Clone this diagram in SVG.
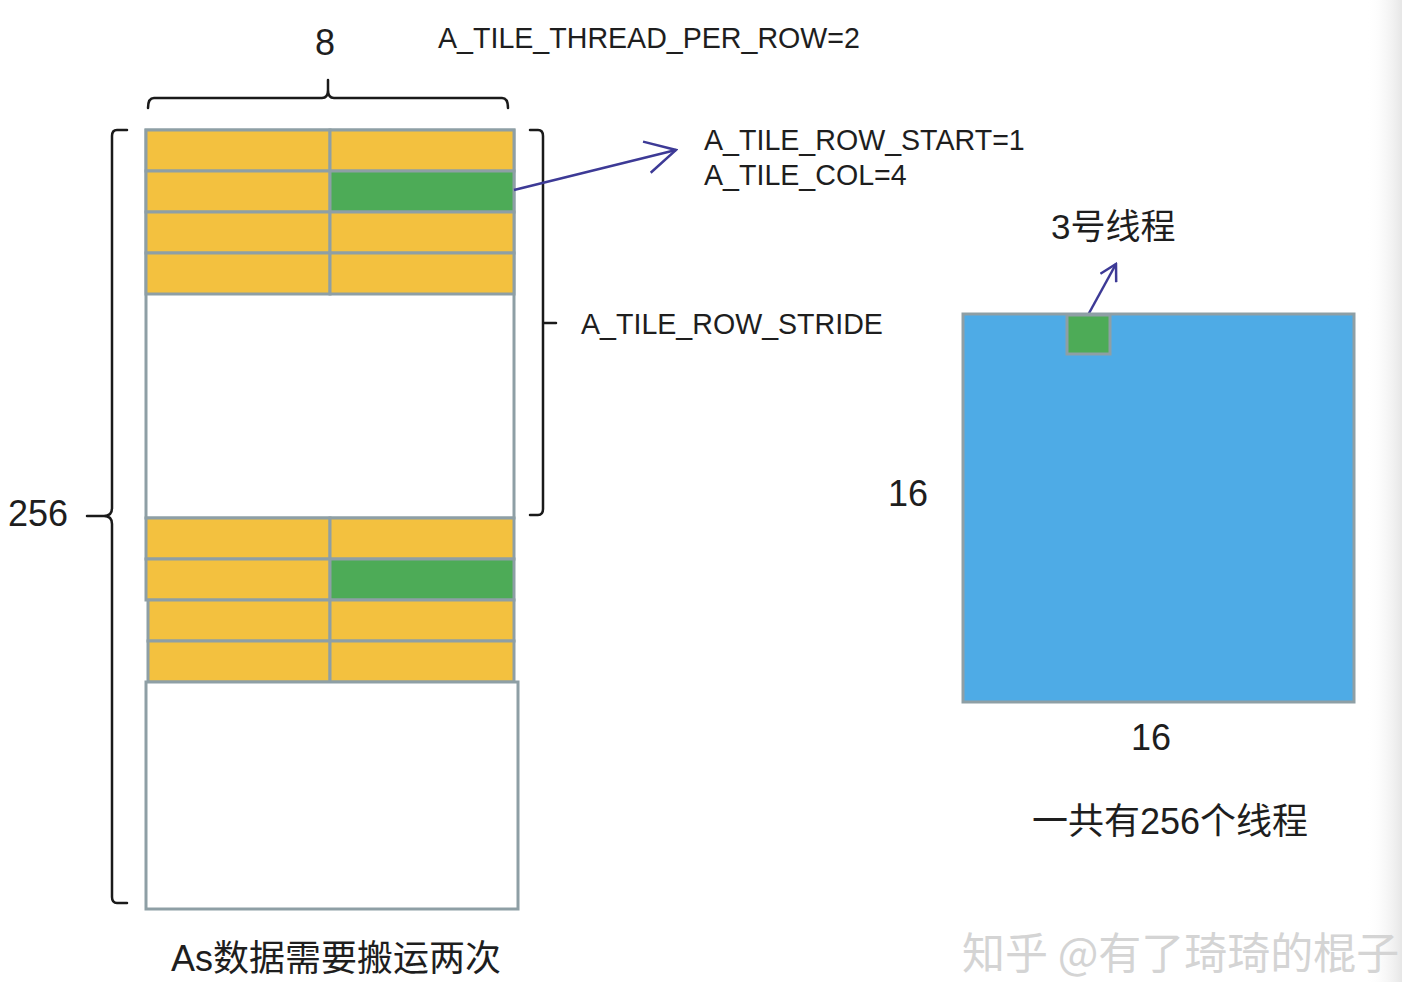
<svg xmlns="http://www.w3.org/2000/svg" width="1402" height="982" viewBox="0 0 1402 982">
<defs>
<style>
.cell{fill:#f3c13f;stroke:#8e9fa5;stroke-width:3}
.hl{fill:#4dab57;stroke:#8e9fa5;stroke-width:3}
.box{fill:#ffffff;stroke:#8e9fa5;stroke-width:3}
.br{fill:none;stroke:#1a1a1a;stroke-width:2.5;stroke-linejoin:round;stroke-linecap:round}
.con{fill:none;stroke:#3d3a96;stroke-width:2.5}
.t{font-family:"Liberation Sans",Arial,sans-serif;fill:#1e1e1e}
.c{font-family:"Liberation Sans","Noto Sans CJK SC",sans-serif;fill:#1e1e1e}
.wm{font-family:"Noto Sans CJK SC",sans-serif;font-size:43px;fill:#d4d4d4}
</style>
<marker id="open" viewBox="0 0 20 20" refX="18" refY="10" markerWidth="20" markerHeight="20" markerUnits="userSpaceOnUse" orient="auto">
<path d="M2,1 L18,10 L2,19" fill="none" stroke="#3d3a96" stroke-width="2.5"/>
</marker>
<marker id="open2" viewBox="0 0 36 36" refX="34" refY="18" markerWidth="36" markerHeight="36" markerUnits="userSpaceOnUse" orient="auto">
<path d="M4,2 L34,18 L4,34" fill="none" stroke="#3d3a96" stroke-width="2.5"/>
</marker>
<linearGradient id="edge" x1="0" y1="0" x2="1" y2="0">
<stop offset="0" stop-color="#ffffff" stop-opacity="0"/>
<stop offset="1" stop-color="#e6e6e6"/>
</linearGradient>
</defs>
<rect width="1402" height="982" fill="#ffffff"/>
<rect x="1366" y="0" width="36" height="982" fill="url(#edge)"/>

<g id="tile-block">
<rect class="box" x="146" y="130" width="368" height="388"/>
<rect class="cell" x="146" y="130" width="184" height="41"/>
<rect class="cell" x="330" y="130" width="184" height="41"/>
<rect class="cell" x="146" y="171" width="184" height="41"/>
<rect class="hl" x="330" y="171" width="184" height="41"/>
<rect class="cell" x="146" y="212" width="184" height="41"/>
<rect class="cell" x="330" y="212" width="184" height="41"/>
<rect class="cell" x="146" y="253" width="184" height="41"/>
<rect class="cell" x="330" y="253" width="184" height="41"/>

<rect class="cell" x="146" y="518" width="184" height="41"/>
<rect class="cell" x="330" y="518" width="184" height="41"/>
<rect class="cell" x="146" y="559" width="184" height="41"/>
<rect class="hl" x="330" y="559" width="184" height="41"/>
<rect class="cell" x="148" y="600" width="182" height="41"/>
<rect class="cell" x="330" y="600" width="184" height="41"/>
<rect class="cell" x="148" y="641" width="182" height="41"/>
<rect class="cell" x="330" y="641" width="184" height="41"/>
<rect class="box" x="146" y="682" width="372" height="227"/>
</g>

<g id="brackets">
<path class="br" d="M148,108 Q148,98 154,98 L322,98 Q328,98 328,90 L328,80 M328,90 Q328,98 334,98 L502,98 Q508,98 508,108"/>
<path class="br" d="M127,130 L117,130 Q112,130 112,136 L112,508 Q112,516 104,516 L87,516 M104,516 Q112,516 112,524 L112,897 Q112,903 117,903 L127,903"/>
<path class="br" d="M530,130 L538,130 Q543,130 543,136 L543,509 Q543,515 538,515 L530,515 M543,323 L556,323"/>
</g>

<g id="connectors">
<line class="con" x1="514" y1="190" x2="676" y2="150" marker-end="url(#open2)"/>
<line class="con" x1="1088" y1="315" x2="1116" y2="264" marker-end="url(#open)"/>
</g>

<g id="thread-grid">
<rect x="963" y="314" width="391" height="388" fill="#4eabe6" stroke="#8e9fa5" stroke-width="3"/>
<rect x="1067" y="315" width="43" height="39" fill="#4dab57" stroke="#8e9fa5" stroke-width="3"/>
</g>

<g id="labels">
<text class="t" x="325" y="55" font-size="36" text-anchor="middle">8</text>
<text class="t" x="438" y="48" font-size="28.6">A_TILE_THREAD_PER_ROW=2</text>
<text class="t" x="8" y="526" font-size="36">256</text>
<text class="t" x="581" y="334" font-size="28.6">A_TILE_ROW_STRIDE</text>
<text class="t" x="704" y="150" font-size="28.6">A_TILE_ROW_START=1</text>
<text class="t" x="704" y="185" font-size="28.6">A_TILE_COL=4</text>
<text class="c" x="1051" y="239" font-size="35">3号线程</text>
<text class="t" x="888" y="506" font-size="36">16</text>
<text class="t" x="1131" y="750" font-size="36">16</text>
<text class="c" x="1032" y="834" font-size="36">一共有256个线程</text>
<text class="c" x="171" y="971" font-size="36">As数据需要搬运两次</text>
<text class="wm" x="962" y="969">知乎 @有了琦琦的棍子</text>
</g>
</svg>
